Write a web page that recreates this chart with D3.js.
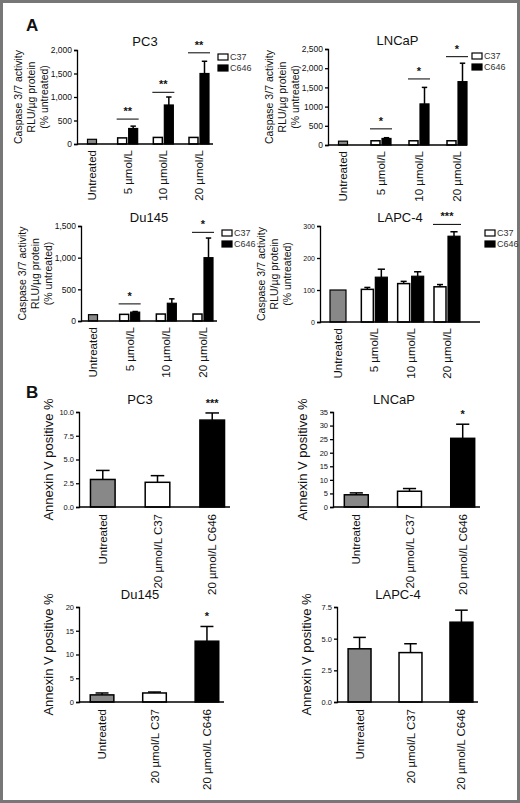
<!DOCTYPE html>
<html>
<head>
<meta charset="utf-8">
<script src="https://d3js.org/d3.v7.min.js"></script>
<style>
  body { margin: 0; background: #fff; }
  text { font-family: Arial, "Liberation Sans", sans-serif; fill: #111; }
</style>
</head>
<body>
<div id="chart"></div>
<script>
"use strict";

// ---- dados (panel A: caspase) ----
var doses = ["Untreated", "5 µmol/L", "10 µmol/L", "20 µmol/L"];
var pc3C37 = [130, 140, 140], pc3C646 = [330, 830, 1500], pc3Err = [380, 1000, 1760];
var lncC37 = [110, 110, 110], lncC646 = [170, 1070, 1650], lncErr = [190, 1500, 2130];
var duC37 = [105, 110, 110], duC646 = [140, 280, 1000], duErr = [150, 350, 1310];
var lapC37 = [102, 120, 110], lapC37Err = [108, 127, 117];
var lapC646 = [140, 143, 268], lapErr = [165, 157, 282];
var untreatedA = 100;

var pc3Ticks = [0, 500, 1000, 1500, 2000], pc3TickLab = ["0", "500", "1,000", "1,500", "2,000"];
var lncTicks = [0, 500, 1000, 1500, 2000, 2500], lncTickLab = ["0", "500", "1000", "1,500", "2,000", "2,500"];
var duTicks = [0, 500, 1000, 1500], duTickLab = ["0", "500", "1,000", "1,500"];
var lapTicks = [0, 100, 200, 300], lapTickLab = ["0", "100", "200", "300"];

var pc3Sig = [[1, 530, "**"], [2, 1100, "**"], [3, 1940, "**"]];
var lncSig = [[1, 420, "*"], [2, 1720, "*"], [3, 2300, "*"]];
var duSig = [[1, 270, "*"], [3, 1400, "*"]];
var lapSig = [[3, 305, "***"]];

// ---- dados (panel B: annexin) ----
var treatments = ["Untreated", "20 µmol/L C37", "20 µmol/L C646"];
var pc3B = [2.9, 2.6, 9.15], pc3BErr = [3.85, 3.3, 9.9];
var lncB = [4.5, 5.8, 25.3], lncBErr = [5.2, 6.8, 30.5];
var duB = [1.5, 1.9, 12.8], duBErr = [1.9, 2.1, 15.9];
var lapB = [4.2, 3.9, 6.3], lapBErr = [5.1, 4.6, 7.25];
var pc3BTicks = [0, 2.5, 5, 7.5, 10], lncBTicks = [0, 5, 10, 15, 20, 25, 30, 35];
var duBTicks = [0, 5, 10, 15, 20], lapBTicks = [0, 2.5, 5, 7.5];
var pc3BStars = [null, null, "***"], lncBStars = [null, null, "*"];
var duBStars = [null, null, "*"], lapBStars = [null, null, null];

var svg = d3.select("#chart").append("svg").attr("width", 520).attr("height", 803);
svg.append("rect").attr("x", 1.5).attr("y", 1.5).attr("width", 517).attr("height", 800)
  .attr("fill", "#fff").attr("stroke", "#777").attr("stroke-width", 3);

function axisY(g, y, x0, ticks, labels, fs) {
  var ax = d3.axisLeft(y).tickValues(ticks).tickSize(3).tickPadding(2)
    .tickFormat(function(d, i) { return labels[i]; });
  var a = g.append("g").attr("transform", "translate(" + x0 + ",0)").call(ax);
  a.selectAll("text").style("font-size", fs + "px");
  a.selectAll("line,path").attr("stroke", "#000").attr("stroke-width", 1.3);
}

function catLabel(g, x, yTop, txt) {
  g.append("text").attr("transform", "translate(" + (x + 4) + "," + yTop + ") rotate(-90)")
    .attr("text-anchor", "end").style("font-size", "11.5px").text(txt);
}

function errBar(g, xc, y1, y2, w) {
  g.append("line").attr("x1", xc).attr("x2", xc).attr("y1", y1).attr("y2", y2).attr("stroke", "#000").attr("stroke-width", 1.5);
  g.append("line").attr("x1", xc - w / 2).attr("x2", xc + w / 2).attr("y1", y2).attr("y2", y2).attr("stroke", "#000").attr("stroke-width", 1.5);
}

function painelA(o) {
  var g = svg.append("g");
  var y = d3.scaleLinear().domain([0, o.max]).range([o.y0, o.yTop]);
  var x = d3.scalePoint().domain(doses).range([o.x0 + o.first, o.x1 - o.last]);
  var bw = o.bw, uw = o.uw || bw;
  // untreated
  var xu = x(doses[0]);
  g.append("rect").attr("x", xu - uw / 2).attr("y", y(untreatedA)).attr("width", uw)
    .attr("height", o.y0 - y(untreatedA)).attr("fill", "#888").attr("stroke", "#000").attr("stroke-width", 1.2);
  o.c37.forEach(function(v, i) {
    var xc = x(doses[i + 1]);
    if (o.c37Err) errBar(g, xc - bw / 2 - 1, y(v), y(o.c37Err[i]), bw * 0.5);
    g.append("rect").attr("x", xc - bw - 1).attr("y", y(v)).attr("width", bw).attr("height", o.y0 - y(v))
      .attr("fill", "#fff").attr("stroke", "#000").attr("stroke-width", 1.5);
    errBar(g, xc + bw / 2 + 1, y(o.c646[i]), y(o.err[i]), bw * 0.6);
    g.append("rect").attr("x", xc + 1).attr("y", y(o.c646[i])).attr("width", bw).attr("height", o.y0 - y(o.c646[i]))
      .attr("fill", "#000").attr("stroke", "#000").attr("stroke-width", 1.2);
  });
  o.sig.forEach(function(s) {
    var xc = x(doses[s[0]]);
    g.append("line").attr("x1", xc - bw - 2).attr("x2", xc + bw + 2).attr("y1", y(s[1])).attr("y2", y(s[1]))
      .attr("stroke", "#000").attr("stroke-width", 1);
    g.append("text").attr("x", xc).attr("y", y(s[1]) - 4).attr("text-anchor", "middle")
      .style("font-size", "11px").style("font-weight", "bold").text(s[2]);
  });
  g.append("line").attr("x1", o.x0).attr("x2", o.x1).attr("y1", o.y0).attr("y2", o.y0).attr("stroke", "#000").attr("stroke-width", 1.5);
  axisY(g, y, o.x0, o.ticks, o.tickLab, o.fs);
  doses.forEach(function(d) { catLabel(g, x(d), o.y0 + 6, d); });
  g.append("text").attr("x", (o.x0 + o.x1) / 2).attr("y", o.yTop - 4).attr("text-anchor", "middle")
    .style("font-size", "13px").text(o.title);
  ["Caspase 3/7 activity", "RLU/µg protein", "(% untreated)"].forEach(function(t, i) {
    g.append("text").attr("transform", "translate(" + (o.x0 - 55 + i * 13) + "," + ((o.y0 + o.yTop) / 2) + ") rotate(-90)")
      .attr("text-anchor", "middle").style("font-size", "10.5px").text(t);
  });
  [["C37", "#fff"], ["C646", "#000"]].forEach(function(l, i) {
    g.append("rect").attr("x", o.x1 + 5).attr("y", o.yTop + 4 + i * 11).attr("width", 10).attr("height", 6)
      .attr("fill", l[1]).attr("stroke", "#000").attr("stroke-width", 1.2);
    g.append("text").attr("x", o.x1 + 17).attr("y", o.yTop + 10 + i * 11).style("font-size", "9px").style("fill", "#333").text(l[0]);
  });
}

function painelB(o) {
  var g = svg.append("g");
  var y = d3.scaleLinear().domain([0, o.max]).range([o.y0, o.yTop]);
  var x = d3.scaleBand().domain(treatments).range([o.x0 + 6, o.x1]).paddingInner(0.55).paddingOuter(0.1);
  var cols = ["#888", "#fff", "#000"];
  o.vals.forEach(function(v, i) {
    var xl = x(treatments[i]), w = x.bandwidth();
    errBar(g, xl + w / 2, y(v), y(o.err[i]), w * 0.55);
    g.append("rect").attr("x", xl).attr("y", y(v)).attr("width", w).attr("height", o.y0 - y(v))
      .attr("fill", cols[i]).attr("stroke", "#000").attr("stroke-width", 1.5);
    if (o.stars[i]) g.append("text").attr("x", xl + w / 2).attr("y", y(o.err[i]) - 6).attr("text-anchor", "middle")
      .style("font-size", "11px").style("font-weight", "bold").text(o.stars[i]);
    catLabel(g, xl + w / 2, o.y0 + 7, treatments[i]);
  });
  g.append("line").attr("x1", o.x0).attr("x2", o.x1).attr("y1", o.y0).attr("y2", o.y0).attr("stroke", "#000").attr("stroke-width", 1.5);
  axisY(g, y, o.x0, o.ticks, o.ticks.map(o.fmt), 7.5);
  g.append("text").attr("x", 140 + (o.x0 - 79)).attr("y", o.yTop - 8).attr("text-anchor", "middle")
    .style("font-size", "13px").text(o.title);
  g.append("text").attr("transform", "translate(" + (o.x0 - 26) + "," + ((o.y0 + o.yTop) / 2) + ") rotate(-90)")
    .attr("text-anchor", "middle").style("font-size", "13px").text("Annexin V positive %");
}

painelA({title: "PC3", x0: 77, x1: 213, y0: 144, yTop: 50, max: 2000, first: 15, last: 14, bw: 9,
  c37: pc3C37, c646: pc3C646, err: pc3Err, sig: pc3Sig, ticks: pc3Ticks, tickLab: pc3TickLab, fs: 8.5});
painelA({title: "LNCaP", x0: 328, x1: 467, y0: 145, yTop: 49, max: 2500, first: 15, last: 10, bw: 9,
  c37: lncC37, c646: lncC646, err: lncErr, sig: lncSig, ticks: lncTicks, tickLab: lncTickLab, fs: 8.5});
painelA({title: "Du145", x0: 81, x1: 217, y0: 321, yTop: 226, max: 1500, first: 12, last: 14, bw: 9,
  c37: duC37, c646: duC646, err: duErr, sig: duSig, ticks: duTicks, tickLab: duTickLab, fs: 8.5});
painelA({title: "LAPC-4", x0: 320, x1: 480, y0: 322, yTop: 226, max: 300, first: 18, last: 33, bw: 12, uw: 16,
  c37: lapC37, c37Err: lapC37Err, c646: lapC646, err: lapErr, sig: lapSig, ticks: lapTicks, tickLab: lapTickLab, fs: 7});

var f1 = function(d) { return d.toFixed(1); }, f0 = function(d) { return String(d); };
painelB({title: "PC3", x0: 79, x1: 230, y0: 507, yTop: 412, max: 10, vals: pc3B, err: pc3BErr, stars: pc3BStars, ticks: pc3BTicks, fmt: f1});
painelB({title: "LNCaP", x0: 333, x1: 480, y0: 507, yTop: 412, max: 35, vals: lncB, err: lncBErr, stars: lncBStars, ticks: lncBTicks, fmt: f0});
painelB({title: "Du145", x0: 79, x1: 224, y0: 702, yTop: 607, max: 20, vals: duB, err: duBErr, stars: duBStars, ticks: duBTicks, fmt: f0});
painelB({title: "LAPC-4", x0: 337, x1: 478, y0: 702, yTop: 607, max: 7.5, vals: lapB, err: lapBErr, stars: lapBStars, ticks: lapBTicks, fmt: f1});

svg.append("text").attr("x", 26).attr("y", 31).style("font-size", "17px").style("font-weight", "bold").text("A");
svg.append("text").attr("x", 26).attr("y", 398).style("font-size", "17px").style("font-weight", "bold").text("B");
</script>
</body>
</html>
